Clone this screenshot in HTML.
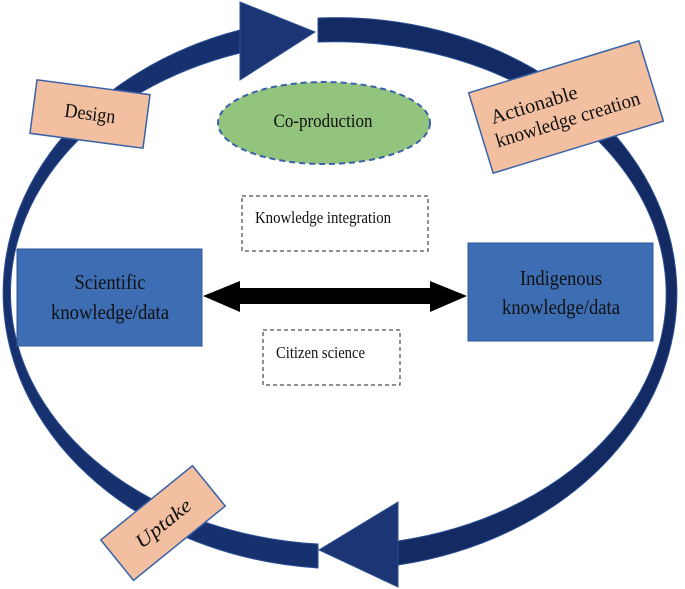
<!DOCTYPE html>
<html><head><meta charset="utf-8"><style>
body{margin:0;background:#fff}
svg{display:block}
text{font-family:"Liberation Serif",serif;fill:#111}
</style></head><body>
<svg width="685" height="589" viewBox="0 0 685 589" xmlns="http://www.w3.org/2000/svg">
<path d="M318,568 A341,276 0 0 1 240,30 L240,53 A332,252 0 0 0 318,544 Z" fill="#17306e" stroke="#2b4f94" stroke-width="1"/>
<polygon points="240,2 315,32 240,80" fill="#1b3575" stroke="#2b4f94" stroke-width="1"/>
<path d="M318,18 A341,276 0 0 1 398,565 L398,541 A332,252 0 0 0 318,42 Z" fill="#132a62" stroke="#2b4f94" stroke-width="1"/>
<polygon points="398,502 319,550 398,587" fill="#1b3575" stroke="#2b4f94" stroke-width="1"/>

<g transform="translate(90,114) rotate(7.5)">
<rect x="-57" y="-27" width="114" height="54" fill="#f2bfa0" stroke="#3a62a8" stroke-width="1.5"/>
<text x="0" y="6" font-size="20" text-anchor="middle" textLength="51" lengthAdjust="spacingAndGlyphs">Design</text></g>

<g transform="translate(566,107) rotate(-17)">
<rect x="-89" y="-42" width="178" height="84" fill="#f2bfa0" stroke="#3a62a8" stroke-width="1.5"/>
<text x="-30" y="-5" font-size="20" text-anchor="middle" textLength="90" lengthAdjust="spacingAndGlyphs">Actionable</text>
<text x="-2" y="19" font-size="20" text-anchor="middle" textLength="150" lengthAdjust="spacingAndGlyphs">knowledge creation</text></g>

<g transform="translate(163,523) rotate(-39)">
<rect x="-59" y="-26" width="118" height="52" fill="#f2bfa0" stroke="#3a62a8" stroke-width="1.5"/>
<text x="0" y="7" font-size="20" text-anchor="middle" font-style="italic" textLength="66" lengthAdjust="spacingAndGlyphs">Uptake</text></g>

<ellipse cx="324" cy="123" rx="106" ry="41" fill="#93c47d" stroke="#3a62a8" stroke-width="2" stroke-dasharray="6,4"/>
<text x="323" y="127" font-size="19" text-anchor="middle" textLength="99" lengthAdjust="spacingAndGlyphs">Co-production</text>

<rect x="242" y="196" width="186" height="55" fill="#fff" stroke="#222" stroke-width="1" stroke-dasharray="4,3"/>
<text x="255" y="223" font-size="17" textLength="136" lengthAdjust="spacingAndGlyphs">Knowledge integration</text>

<rect x="17" y="249" width="185" height="97" fill="#3d6db3" stroke="#2e5597" stroke-width="1"/>
<text x="110" y="289" font-size="21" text-anchor="middle" textLength="71" lengthAdjust="spacingAndGlyphs">Scientific</text>
<text x="110" y="319" font-size="21" text-anchor="middle" textLength="118" lengthAdjust="spacingAndGlyphs">knowledge/data</text>

<rect x="468" y="243" width="185" height="98" fill="#3d6db3" stroke="#2e5597" stroke-width="1"/>
<text x="561" y="285" font-size="21" text-anchor="middle" textLength="82" lengthAdjust="spacingAndGlyphs">Indigenous</text>
<text x="561" y="314" font-size="21" text-anchor="middle" textLength="118" lengthAdjust="spacingAndGlyphs">knowledge/data</text>

<polygon points="203,296 240,281 240,288 430,288 430,281 467,296 430,312 430,304 240,304 240,312" fill="#000"/>

<rect x="263" y="330" width="137" height="55" fill="#fff" stroke="#222" stroke-width="1" stroke-dasharray="4,3"/>
<text x="276" y="358" font-size="17" textLength="89" lengthAdjust="spacingAndGlyphs">Citizen science</text>
</svg>
</body></html>
